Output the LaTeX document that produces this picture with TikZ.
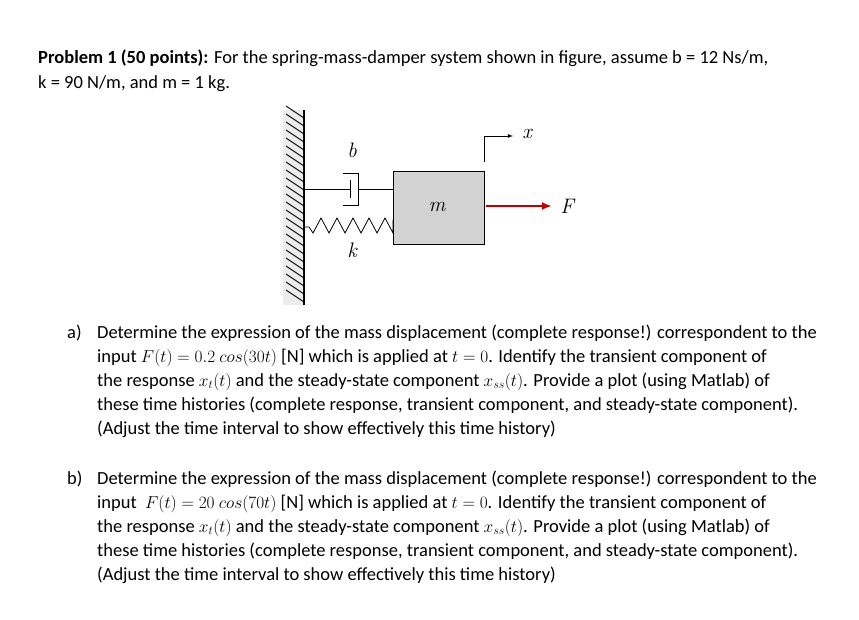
\documentclass[tikz,border=0pt]{standalone}
\usepackage{fontspec}
\usetikzlibrary{arrows.meta}
\setmainfont{Carlito}
\newfontfamily\lmr{Latin Modern Roman}
\begin{document}
\begin{tikzpicture}[x=1pt,y=-1pt,
 txt/.style={anchor=base west,inner sep=0pt,font=\fontsize{18.5}{21}\selectfont},
 lbl/.style={inner sep=0pt,font=\fontsize{21}{24}\selectfont\lmr\itshape}]
\useasboundingbox (0,0) rectangle (859,620);
% wall
\fill[gray!15] (283,110) rectangle (304,305);
\draw[line width=1.4pt] (304,110) -- (304,305);
\foreach \y in {112,120,...,300} \draw[line width=0.9pt] (304,\y+6) -- (286,\y-6);
% mass
\node[draw,line width=0.8pt,fill=gray!35,minimum width=91pt,minimum height=73pt,inner sep=0pt] (m) at (438.5,207.5) {};
\node[lbl] (ml) at (437,207) {m};
% damper
\coordinate (w1) at (304,189);
\coordinate (d1) at (350,189);
\draw[line width=0.8pt] (w1) -- (d1);
\draw[line width=1pt] (350,180) -- (350,198);
\draw[line width=0.8pt] (343,173) -- (358,173) -- (358,205) -- (343,205);
\draw[line width=0.8pt] (358,189) -- (m.west |- 0,189);
\node[lbl] (b) at (352,150) {b};
% spring
\draw[line width=0.8pt] (304,227) -- (309,227) -- (313,233) \foreach \i in {0,...,4} {-- (321+\i*16,218) -- (329+\i*16,233)} -- (393,220);
\node[lbl] (k) at (352,250) {k};
% x arrow
\coordinate (x0) at (484,162);
\coordinate (x1) at (484,136);
\coordinate (x2) at (513,136);
\draw[line width=0.8pt,-latex] (x0) -- (x1) -- (x2);
\node[lbl] (xl) at (527,134) {x};
% force
\coordinate (f0) at (486,206);
\coordinate (f1) at (552,206);
\draw[red!75!black,line width=2.2pt,-{Latex[length=10pt,width=8pt]}] (f0) -- (f1);
\node[lbl] (F) at (567,206) {F};
% text
\node[txt] (t1) at (38,64) {\textbf{Problem 1 (50 points):} For the spring-mass-damper system shown in figure, assume b = 12 Ns/m,};
\node[txt] (t2) at (38,89) {k = 90 N/m, and m = 1 kg.};
\node[txt] (a) at (67,338) {a)};
\node[txt] (a1) at (97,338) {Determine the expression of the mass displacement (complete response!) correspondent to the};
\node[txt] (a2) at (97,362) {input $F(t)=0.2\ cos(30t)$ [N] which is applied at $t=0$. Identify the transient component of};
\node[txt] (a3) at (97,386) {the response $x_t(t)$ and the steady-state component $x_{ss}(t)$. Provide a plot (using Matlab) of};
\node[txt] (a4) at (97,410) {these time histories (complete response, transient component, and steady-state component).};
\node[txt] (a5) at (97,434) {(Adjust the time interval to show effectively this time history)};
\node[txt] (b0) at (67,484) {b)};
\node[txt] (b1) at (97,484) {Determine the expression of the mass displacement (complete response!) correspondent to the};
\node[txt] (b2) at (97,508) {input\ \ $F(t)=20\ cos(70t)$ [N] which is applied at $t=0$. Identify the transient component of};
\node[txt] (b3) at (97,532) {the response $x_t(t)$ and the steady-state component $x_{ss}(t)$. Provide a plot (using Matlab) of};
\node[txt] (b4) at (97,556) {these time histories (complete response, transient component, and steady-state component).};
\node[txt] (b5) at (97,580) {(Adjust the time interval to show effectively this time history)};
\end{tikzpicture}
\end{document}
